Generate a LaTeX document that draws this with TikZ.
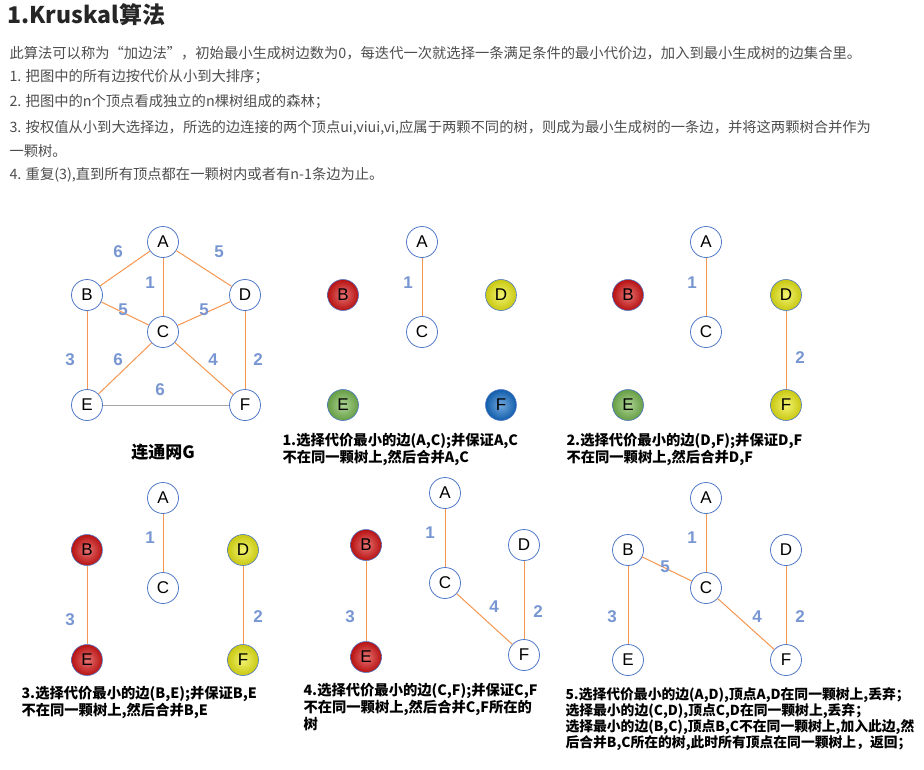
\documentclass[tikz,border=0pt]{standalone}
\usepackage{fontspec}
\setmainfont{Liberation Sans}
\newfontfamily\cjk{Noto Sans CJK SC}
\usetikzlibrary{shadings}
\definecolor{txt}{RGB}{77,77,77}
\definecolor{wt}{RGB}{120,150,210}
\definecolor{nb}{RGB}{80,120,200}
\definecolor{ed}{RGB}{244,150,80}
\definecolor{cr}{RGB}{215,20,20}
\definecolor{cy}{RGB}{235,235,20}
\definecolor{cg}{RGB}{120,185,80}
\definecolor{cb}{RGB}{20,110,200}
\begin{document}
\begin{tikzpicture}[x=1pt,y=-1pt,
 v/.style={circle,draw=nb,fill=white,line width=0.8pt,minimum size=31pt,inner sep=0pt,font=\fontsize{17}{17}\selectfont},
 bl/.style={circle,minimum size=31pt,inner sep=0pt,inner color=#1!60!white,outer color=#1!85!black,draw=nb,line width=0.6pt,font=\fontsize{17}{17}\selectfont},
 e/.style={draw=ed,line width=1pt},
 w/.style={text=wt,font=\fontsize{17}{17}\selectfont\bfseries},
 captxt/.style={anchor=north west,align=left,font=\cjk\fontsize{14.3}{17}\selectfont\bfseries,text=black},
 hl/.style={anchor=west,text=txt,font=\cjk\fontsize{14.3}{14}\selectfont}]
\useasboundingbox (0,0) rectangle (924,769);
\node[anchor=west,font=\cjk\fontsize{23}{23}\selectfont\bfseries,text=black!85] (title) at (4,15) {1.Kruskal算法};
\node[hl] (h1) at (6,53) {此算法可以称为“加边法”，初始最小生成树边数为0，每迭代一次就选择一条满足条件的最小代价边，加入到最小生成树的边集合里。};
\node[hl] (h2) at (6,77) {1. 把图中的所有边按代价从小到大排序；};
\node[hl] (h3) at (6,102) {2. 把图中的n个顶点看成独立的n棵树组成的森林；};
\node[hl] (h4) at (6,128) {3. 按权值从小到大选择边，所选的边连接的两个顶点ui,viui,vi,应属于两颗不同的树，则成为最小生成树的一条边，并将这两颗树合并作为};
\node[hl] (h5) at (6,151) {一颗树。};
\node[hl] (h6) at (6,175) {4. 重复(3),直到所有顶点都在一颗树内或者有n-1条边为止。};
% Graph G
\node[v] (gA) at (163,242) {A}; \node[v] (gB) at (87,295) {B}; \node[v] (gD) at (245,295) {D};
\node[v] (gC) at (163,332) {C}; \node[v] (gE) at (87,405) {E}; \node[v] (gF) at (245,405) {F};
\draw[e] (gA)--(gB); \draw[e] (gA)--(gD); \draw[e] (gA)--(gC); \draw[e] (gB)--(gC); \draw[e] (gD)--(gC);
\draw[e] (gB)--(gE); \draw[e] (gD)--(gF); \draw[e] (gC)--(gE); \draw[e] (gC)--(gF);
\draw[draw=gray!70,line width=0.8pt] (gE)--(gF);
\node[w] at (118,252) {6}; \node[w] at (219,252) {5}; \node[w] at (150,283) {1};
\node[w] at (123,310) {5}; \node[w] at (204,310) {5}; \node[w] at (70,360) {3};
\node[w] at (118,360) {6}; \node[w] at (213,360) {4}; \node[w] at (258,360) {2}; \node[w] at (160,390) {6};
\node[font=\cjk\fontsize{17}{17}\selectfont\bfseries] (capG) at (163,452) {连通网G};
% Panel 2
\node[v] (pA) at (422,242) {A}; \node[v] (pC) at (422,332) {C};
\node[bl=cr] (pB) at (343,295) {B}; \node[bl=cy] (pD) at (501,295) {D};
\node[bl=cg] (pE) at (343,405) {E}; \node[bl=cb] (pF) at (501,405) {F};
\draw[e] (pA)--(pC); \node[w] at (408,283) {1};
\node[captxt] (c2) at (279,430) {1.选择代价最小的边(A,C);并保证A,C\\不在同一颗树上,然后合并A,C};
% Panel 3
\node[v] (qA) at (706,242) {A}; \node[v] (qC) at (706,332) {C};
\node[bl=cr] (qB) at (628,295) {B}; \node[bl=cy] (qD) at (786,295) {D};
\node[bl=cg] (qE) at (628,405) {E}; \node[bl=cy] (qF) at (786,405) {F};
\draw[e] (qA)--(qC); \draw[e] (qD)--(qF); \node[w] at (692,283) {1}; \node[w] at (800,358) {2};
\node[captxt] (c3) at (563,430) {2.选择代价最小的边(D,F);并保证D,F\\不在同一颗树上,然后合并D,F};
% Panel 4
\node[v] (rA) at (163,498) {A}; \node[v] (rC) at (163,588) {C};
\node[bl=cr] (rB) at (87,550) {B}; \node[bl=cr] (rE) at (87,660) {E};
\node[bl=cy] (rD) at (243,550) {D}; \node[bl=cy] (rF) at (243,660) {F};
\draw[e] (rA)--(rC); \draw[e] (rB)--(rE); \draw[e] (rD)--(rF);
\node[w] at (150,538) {1}; \node[w] at (70,620) {3}; \node[w] at (258,617) {2};
\node[captxt] (c4) at (18,683) {3.选择代价最小的边(B,E);并保证B,E\\不在同一颗树上,然后合并B,E};
% Panel 5
\node[v] (sA) at (445,493) {A}; \node[v] (sC) at (445,583) {C};
\node[bl=cr] (sB) at (366,545) {B}; \node[bl=cr] (sE) at (366,657) {E};
\node[v] (sD) at (524,545) {D}; \node[v] (sF) at (524,655) {F};
\draw[e] (sA)--(sC); \draw[e] (sB)--(sE); \draw[e] (sD)--(sF); \draw[e] (sC)--(sF);
\node[w] at (430,533) {1}; \node[w] at (350,617) {3}; \node[w] at (494,607) {4}; \node[w] at (538,612) {2};
\node[captxt] (c5) at (300,680) {4.选择代价最小的边(C,F);并保证C,F\\不在同一颗树上,然后合并C,F所在的\\树};
% Panel 6
\node[v] (tA) at (706,498) {A}; \node[v] (tC) at (706,588) {C};
\node[v] (tB) at (628,550) {B}; \node[v] (tD) at (786,550) {D};
\node[v] (tE) at (628,660) {E}; \node[v] (tF) at (786,660) {F};
\draw[e] (tA)--(tC); \draw[e] (tB)--(tE); \draw[e] (tD)--(tF); \draw[e] (tC)--(tF); \draw[e] (tB)--(tC);
\node[w] at (665,567) {5}; \node[w] at (692,538) {1}; \node[w] at (612,617) {3}; \node[w] at (757,617) {4}; \node[w] at (800,617) {2};
\node[captxt,font=\cjk\fontsize{13.8}{15}\selectfont\bfseries] (c6) at (562,684) {5.选择代价最小的边(A,D),顶点A,D在同一颗树上,丢弃；\\选择最小的边(C,D),顶点C,D在同一颗树上,丢弃；\\选择最小的边(B,C),顶点B,C不在同一颗树上,加入此边,然\\后合并B,C所在的树,此时所有顶点在同一颗树上，返回；};
\end{tikzpicture}
\end{document}
